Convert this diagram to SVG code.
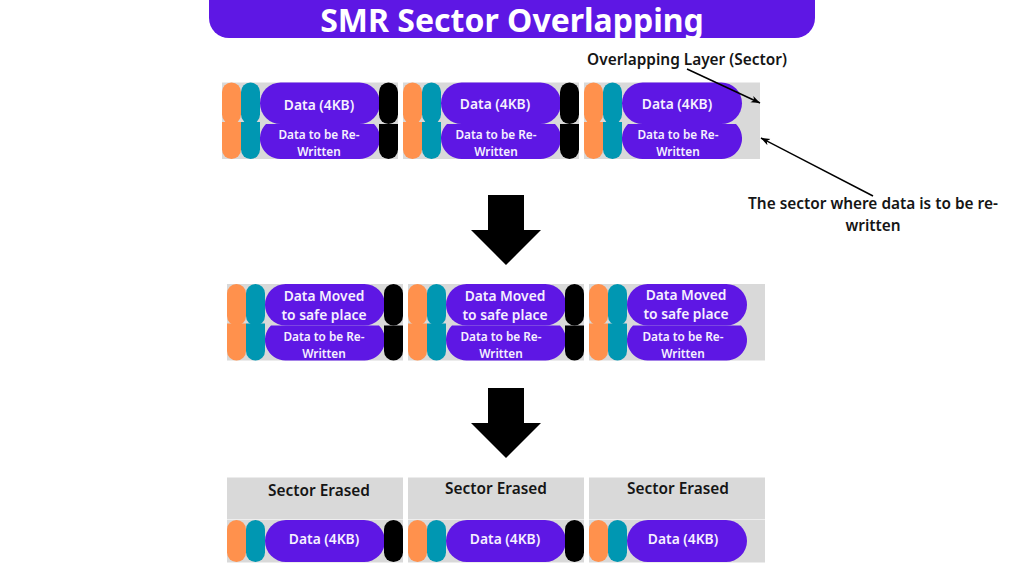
<svg xmlns="http://www.w3.org/2000/svg" width="1024" height="576" viewBox="0 0 1024 576">
<style>
text{font-family:"Noto Sans","Open Sans","Liberation Sans",sans-serif;font-weight:600;text-anchor:middle}
.bg{fill:#d9d9d9}.o{fill:#ff914d}.t{fill:#0097b2}.p{fill:#5e17e4}.k{fill:#000}
.w13{fill:#f6f0ff;font-size:13.800px}.w12{fill:#f6f0ff;font-size:11.800px}
.b{fill:#151515;font-size:15.400px}
.ln{stroke:#000;stroke-width:1.5;fill:none;marker-end:url(#a)}
</style>
<defs>
<marker id="a" markerUnits="userSpaceOnUse" markerWidth="12" markerHeight="10" refX="9" refY="4" orient="auto"><path d="M0 0.500L9 4L0 7.500L2.500 4Z" fill="#000"/></marker>
<rect id="top-cap" width="19" height="41.500" rx="9.500"/>
<path id="low-cap" d="M0 0H19V27.500A9.500 9.500 0 0 1 0 27.500Z"/>
<path id="low-black" d="M0 0H19V25.500A9.500 9.500 0 0 1 0 25.500Z"/>
<rect id="top-pill" width="120" height="41.500" rx="20.700"/>
<path id="low-pill" d="M6 0H114A20.500 20.500 0 0 1 99.500 35H20.500A20.500 20.500 0 0 1 6 0Z"/>
<rect id="cap" width="19" height="42" rx="9.500"/>
<rect id="pill" width="120" height="42" rx="21"/>
</defs>
<rect width="1024" height="576" fill="#fff"/>
<g id="title"><rect x="209" y="-30" width="606" height="68" rx="20" class="p"/><text x="512" y="32" style="font-size:32px;font-weight:700;fill:#fff">SMR Sector Overlapping</text></g>

<g id="row1-sector1"><rect x="222" y="82.500" width="176" height="76.500" class="bg"/>
<use href="#top-cap" x="222" y="82.500" class="o"/><use href="#low-cap" x="222" y="122" class="o"/>
<use href="#top-cap" x="241" y="82.500" class="t"/><use href="#low-cap" x="241" y="122" class="t"/>
<use href="#top-pill" x="260" y="82.500" class="p"/><use href="#low-pill" x="260" y="124" class="p"/>
<use href="#top-cap" x="379" y="82.500" class="k"/><use href="#low-black" x="379" y="124" class="k"/>
<text x="319" y="110" class="w13">Data (4KB)</text><text x="319" y="139" class="w12">Data to be Re-</text><text x="319" y="156" class="w12">Written</text></g>

<g id="row1-sector2"><rect x="403" y="82.500" width="176" height="76.500" class="bg"/>
<use href="#top-cap" x="403" y="82.500" class="o"/><use href="#low-cap" x="403" y="122" class="o"/>
<use href="#top-cap" x="422" y="82.500" class="t"/><use href="#low-cap" x="422" y="122" class="t"/>
<use href="#top-pill" x="441" y="82.500" class="p"/><use href="#low-pill" x="441" y="124" class="p"/>
<use href="#top-cap" x="560" y="82.500" class="k"/><use href="#low-black" x="560" y="124" class="k"/>
<text x="495" y="109" class="w13">Data (4KB)</text><text x="496" y="139" class="w12">Data to be Re-</text><text x="496" y="156" class="w12">Written</text></g>

<g id="row1-sector3"><rect x="584" y="82.500" width="176" height="76.500" class="bg"/>
<use href="#top-cap" x="584" y="82.500" class="o"/><use href="#low-cap" x="584" y="122" class="o"/>
<use href="#top-cap" x="603" y="82.500" class="t"/><use href="#low-cap" x="603" y="122" class="t"/>
<use href="#top-pill" x="622" y="82.500" class="p"/><use href="#low-pill" x="622" y="124" class="p"/>
<text x="677" y="109" class="w13">Data (4KB)</text><text x="678" y="139" class="w12">Data to be Re-</text><text x="678" y="156" class="w12">Written</text></g>

<g id="row2-sector1"><rect x="227" y="284" width="176" height="76.500" class="bg"/>
<use href="#top-cap" x="227" y="284" class="o"/><use href="#low-cap" x="227" y="323.500" class="o"/>
<use href="#top-cap" x="246" y="284" class="t"/><use href="#low-cap" x="246" y="323.500" class="t"/>
<use href="#top-pill" x="265" y="284" class="p"/><use href="#low-pill" x="265" y="325.500" class="p"/>
<use href="#top-cap" x="384" y="284" class="k"/><use href="#low-black" x="384" y="325.500" class="k"/>
<text x="324" y="301" class="w13">Data Moved</text><text x="324" y="320" class="w13">to safe place</text><text x="324" y="341" class="w12">Data to be Re-</text><text x="324" y="358" class="w12">Written</text></g>

<g id="row2-sector2"><rect x="408" y="284" width="176" height="76.500" class="bg"/>
<use href="#top-cap" x="408" y="284" class="o"/><use href="#low-cap" x="408" y="323.500" class="o"/>
<use href="#top-cap" x="427" y="284" class="t"/><use href="#low-cap" x="427" y="323.500" class="t"/>
<use href="#top-pill" x="446" y="284" class="p"/><use href="#low-pill" x="446" y="325.500" class="p"/>
<use href="#top-cap" x="565" y="284" class="k"/><use href="#low-black" x="565" y="325.500" class="k"/>
<text x="505" y="301" class="w13">Data Moved</text><text x="505" y="320" class="w13">to safe place</text><text x="501" y="341" class="w12">Data to be Re-</text><text x="501" y="358" class="w12">Written</text></g>

<g id="row2-sector3"><rect x="589" y="284" width="176" height="76.500" class="bg"/>
<use href="#top-cap" x="589" y="284" class="o"/><use href="#low-cap" x="589" y="323.500" class="o"/>
<use href="#top-cap" x="608" y="284" class="t"/><use href="#low-cap" x="608" y="323.500" class="t"/>
<use href="#top-pill" x="627" y="284" class="p"/><use href="#low-pill" x="627" y="325.500" class="p"/>
<text x="686" y="300" class="w13">Data Moved</text><text x="686" y="319" class="w13">to safe place</text><text x="683" y="341" class="w12">Data to be Re-</text><text x="683" y="358" class="w12">Written</text></g>

<g id="row3-sector1"><rect x="227" y="477.500" width="176" height="85" class="bg"/><rect x="227" y="519" width="176" height="1" fill="#eee"/>
<use href="#cap" x="227" y="520" class="o"/><use href="#cap" x="246" y="520" class="t"/><use href="#pill" x="265" y="520" class="p"/><use href="#cap" x="384" y="520" class="k"/>
<text x="319" y="496" class="b">Sector Erased</text><text x="324" y="544" class="w13">Data (4KB)</text></g>

<g id="row3-sector2"><rect x="408" y="477.500" width="176" height="85" class="bg"/><rect x="408" y="519" width="176" height="1" fill="#eee"/>
<use href="#cap" x="408" y="520" class="o"/><use href="#cap" x="427" y="520" class="t"/><use href="#pill" x="446" y="520" class="p"/><use href="#cap" x="565" y="520" class="k"/>
<text x="496" y="494" class="b">Sector Erased</text><text x="505" y="544" class="w13">Data (4KB)</text></g>

<g id="row3-sector3"><rect x="589" y="477.500" width="176" height="85" class="bg"/><rect x="589" y="519" width="176" height="1" fill="#eee"/>
<use href="#cap" x="589" y="520" class="o"/><use href="#cap" x="608" y="520" class="t"/><use href="#pill" x="627" y="520" class="p"/>
<text x="678" y="494" class="b">Sector Erased</text><text x="683" y="544" class="w13">Data (4KB)</text></g>

<g id="label-overlap"><text x="687" y="65" class="b">Overlapping Layer (Sector)</text></g>
<g id="label-rewrite"><text x="873" y="209" class="b">The sector where data is to be re-</text><text x="873" y="231" class="b">written</text></g>

<g id="connectors">
<path d="M687 69L760 103" class="ln"/>
<path d="M873 196L761 138" class="ln"/>
<path d="M488 195H524V230H541L506 265L471 230H488Z"/>
<path d="M488 388H524V423H541L506 458L471 423H488Z"/>
</g>
</svg>
